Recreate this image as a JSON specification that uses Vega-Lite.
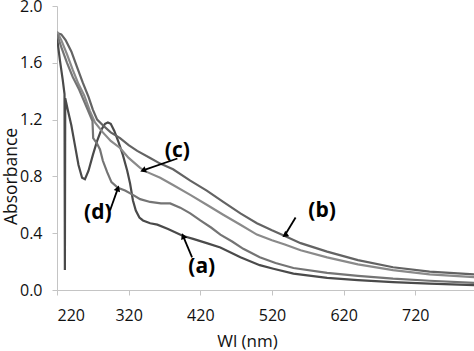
{
  "$schema": "https://vega.github.io/schema/vega-lite/v6.json",
  "autosize": {"type": "none"},
  "padding": {"left": 57, "top": 6, "right": 0, "bottom": 61},
  "width": 417,
  "height": 284,
  "background": "white",
  "config": {
    "view": {"stroke": null},
    "font": "Open Sans",
    "axis": {"grid": false, "domainColor": "#c4c4c4", "tickColor": "#c4c4c4", "tickSize": 5, "labelColor": "#111", "titleColor": "#111", "labelFont": "Open Sans", "titleFont": "Open Sans", "labelFontSize": 16, "titleFontWeight": "normal"}
  },
  "datasets": {
    "spectra": [
      {"s":"a","wl":220,"A":1.78},{"s":"a","wl":224,"A":1.62},{"s":"a","wl":228,"A":1.48},{"s":"a","wl":230.5,"A":1.38},{"s":"a","wl":231,"A":0.14},{"s":"a","wl":231.5,"A":1.35},{"s":"a","wl":235,"A":1.27},{"s":"a","wl":240,"A":1.16},{"s":"a","wl":245,"A":1.02},{"s":"a","wl":250,"A":0.88},{"s":"a","wl":255,"A":0.79},{"s":"a","wl":259,"A":0.78},{"s":"a","wl":264,"A":0.84},{"s":"a","wl":270,"A":0.95},{"s":"a","wl":276,"A":1.05},{"s":"a","wl":282,"A":1.13},{"s":"a","wl":287,"A":1.17},{"s":"a","wl":291,"A":1.18},{"s":"a","wl":295,"A":1.17},{"s":"a","wl":300,"A":1.12},{"s":"a","wl":306,"A":1.04},{"s":"a","wl":312,"A":0.95},{"s":"a","wl":318,"A":0.84},{"s":"a","wl":322,"A":0.75},{"s":"a","wl":326,"A":0.63},{"s":"a","wl":330,"A":0.56},{"s":"a","wl":335,"A":0.51},{"s":"a","wl":340,"A":0.49},{"s":"a","wl":350,"A":0.47},{"s":"a","wl":360,"A":0.46},{"s":"a","wl":375,"A":0.43},{"s":"a","wl":396,"A":0.38},{"s":"a","wl":410,"A":0.36},{"s":"a","wl":429,"A":0.33},{"s":"a","wl":448,"A":0.30},{"s":"a","wl":476,"A":0.23},{"s":"a","wl":503,"A":0.175},{"s":"a","wl":522,"A":0.15},{"s":"a","wl":550,"A":0.115},{"s":"a","wl":597,"A":0.085},{"s":"a","wl":640,"A":0.07},{"s":"a","wl":689,"A":0.056},{"s":"a","wl":740,"A":0.045},{"s":"a","wl":802,"A":0.035},
      {"s":"b","wl":220,"A":1.81},{"s":"b","wl":226,"A":1.80},{"s":"b","wl":232,"A":1.76},{"s":"b","wl":240,"A":1.68},{"s":"b","wl":248,"A":1.57},{"s":"b","wl":256,"A":1.46},{"s":"b","wl":264,"A":1.36},{"s":"b","wl":270,"A":1.27},{"s":"b","wl":276,"A":1.20},{"s":"b","wl":284,"A":1.16},{"s":"b","wl":295,"A":1.11},{"s":"b","wl":308,"A":1.07},{"s":"b","wl":320,"A":1.02},{"s":"b","wl":332,"A":0.98},{"s":"b","wl":350,"A":0.93},{"s":"b","wl":364,"A":0.89},{"s":"b","wl":382,"A":0.85},{"s":"b","wl":406,"A":0.77},{"s":"b","wl":429,"A":0.70},{"s":"b","wl":452,"A":0.62},{"s":"b","wl":476,"A":0.54},{"s":"b","wl":499,"A":0.47},{"s":"b","wl":520,"A":0.42},{"s":"b","wl":538,"A":0.38},{"s":"b","wl":560,"A":0.33},{"s":"b","wl":597,"A":0.27},{"s":"b","wl":640,"A":0.21},{"s":"b","wl":689,"A":0.16},{"s":"b","wl":740,"A":0.13},{"s":"b","wl":802,"A":0.11},
      {"s":"c","wl":220,"A":1.82},{"s":"c","wl":226,"A":1.76},{"s":"c","wl":234,"A":1.66},{"s":"c","wl":242,"A":1.55},{"s":"c","wl":250,"A":1.45},{"s":"c","wl":258,"A":1.37},{"s":"c","wl":266,"A":1.26},{"s":"c","wl":273,"A":1.18},{"s":"c","wl":284,"A":1.11},{"s":"c","wl":295,"A":1.05},{"s":"c","wl":308,"A":1.00},{"s":"c","wl":320,"A":0.93},{"s":"c","wl":336,"A":0.86},{"s":"c","wl":346,"A":0.83},{"s":"c","wl":364,"A":0.79},{"s":"c","wl":382,"A":0.74},{"s":"c","wl":406,"A":0.67},{"s":"c","wl":429,"A":0.60},{"s":"c","wl":452,"A":0.53},{"s":"c","wl":476,"A":0.46},{"s":"c","wl":499,"A":0.39},{"s":"c","wl":520,"A":0.35},{"s":"c","wl":538,"A":0.32},{"s":"c","wl":560,"A":0.28},{"s":"c","wl":597,"A":0.23},{"s":"c","wl":640,"A":0.18},{"s":"c","wl":689,"A":0.14},{"s":"c","wl":740,"A":0.11},{"s":"c","wl":802,"A":0.09},
      {"s":"d","wl":220,"A":1.80},{"s":"d","wl":226,"A":1.71},{"s":"d","wl":234,"A":1.60},{"s":"d","wl":242,"A":1.50},{"s":"d","wl":251,"A":1.41},{"s":"d","wl":262,"A":1.28},{"s":"d","wl":269.5,"A":1.19},{"s":"d","wl":270.5,"A":1.07},{"s":"d","wl":276,"A":1.03},{"s":"d","wl":280,"A":0.99},{"s":"d","wl":284,"A":0.91},{"s":"d","wl":290,"A":0.83},{"s":"d","wl":296,"A":0.76},{"s":"d","wl":305,"A":0.72},{"s":"d","wl":315,"A":0.70},{"s":"d","wl":326,"A":0.67},{"s":"d","wl":336,"A":0.64},{"s":"d","wl":350,"A":0.62},{"s":"d","wl":365,"A":0.61},{"s":"d","wl":378,"A":0.61},{"s":"d","wl":392,"A":0.58},{"s":"d","wl":406,"A":0.54},{"s":"d","wl":420,"A":0.49},{"s":"d","wl":435,"A":0.44},{"s":"d","wl":448,"A":0.39},{"s":"d","wl":465,"A":0.34},{"s":"d","wl":480,"A":0.29},{"s":"d","wl":503,"A":0.23},{"s":"d","wl":525,"A":0.19},{"s":"d","wl":550,"A":0.155},{"s":"d","wl":597,"A":0.12},{"s":"d","wl":640,"A":0.10},{"s":"d","wl":689,"A":0.08},{"s":"d","wl":740,"A":0.065},{"s":"d","wl":802,"A":0.05}
    ],
    "arrows": [
      {"s":"a","wl0":408.5,"A0":0.23,"wl1":396,"A1":0.38},
      {"s":"b","wl0":553,"A0":0.51,"wl1":538,"A1":0.386},
      {"s":"c","wl0":388,"A0":0.926,"wl1":340,"A1":0.842},
      {"s":"d","wl0":294,"A0":0.56,"wl1":305,"A1":0.716}
    ],
    "labels": [
      {"t":"(a)","wl":422,"A":0.16},
      {"t":"(b)","wl":590,"A":0.555},
      {"t":"(c)","wl":388,"A":0.976},
      {"t":"(d)","wl":277,"A":0.54}
    ]
  },
  "layer": [
    {
      "data": {"name": "spectra"},
      "mark": {"type": "line", "strokeWidth": 2.2, "clip": true},
      "encoding": {
        "x": {"field": "wl", "type": "quantitative", "scale": {"domain": [220, 802], "nice": false, "zero": false},
              "axis": {"values": [220, 320, 420, 520, 620, 720], "title": "Wl (nm)", "titleFontSize": 17, "labelPadding": 12, "titleX": 190, "titleY": 56, "titleBaseline": "alphabetic", "titleAnchor": "middle"}},
        "y": {"field": "A", "type": "quantitative", "scale": {"domain": [0, 2], "nice": false},
              "axis": {"values": [0, 0.4, 0.8, 1.2, 1.6, 2.0], "format": ".1f", "title": "Absorbance", "titleFontSize": 17.5, "labelPadding": 10, "titleX": -41, "titleY": 170, "titleAngle": -90, "titleBaseline": "alphabetic", "titleAnchor": "middle"}},
        "color": {"field": "s", "type": "nominal", "scale": {"domain": ["a", "b", "c", "d"], "range": ["#4a4a4a", "#636363", "#8a8a8a", "#747474"]}, "legend": null},
        "detail": {"field": "s"}
      }
    },
    {
      "data": {"name": "arrows"},
      "mark": {"type": "rule", "color": "#000", "strokeWidth": 1.8},
      "encoding": {
        "x": {"field": "wl0", "type": "quantitative"},
        "y": {"field": "A0", "type": "quantitative"},
        "x2": {"field": "wl1"},
        "y2": {"field": "A1"}
      }
    },
    {
      "data": {"name": "arrows"},
      "transform": [{"filter": "datum.s == 'a'"}],
      "mark": {"type": "point", "shape": "triangle-up", "filled": true, "color": "#000", "size": 45, "opacity": 1, "angle": -23},
      "encoding": {"x": {"field": "wl1", "type": "quantitative"}, "y": {"field": "A1", "type": "quantitative"}}
    },
    {
      "data": {"name": "arrows"},
      "transform": [{"filter": "datum.s == 'b'"}],
      "mark": {"type": "point", "shape": "triangle-up", "filled": true, "color": "#000", "size": 45, "opacity": 1, "angle": 234},
      "encoding": {"x": {"field": "wl1", "type": "quantitative"}, "y": {"field": "A1", "type": "quantitative"}}
    },
    {
      "data": {"name": "arrows"},
      "transform": [{"filter": "datum.s == 'c'"}],
      "mark": {"type": "point", "shape": "triangle-up", "filled": true, "color": "#000", "size": 45, "opacity": 1, "angle": 250},
      "encoding": {"x": {"field": "wl1", "type": "quantitative"}, "y": {"field": "A1", "type": "quantitative"}}
    },
    {
      "data": {"name": "arrows"},
      "transform": [{"filter": "datum.s == 'd'"}],
      "mark": {"type": "point", "shape": "triangle-up", "filled": true, "color": "#000", "size": 45, "opacity": 1, "angle": 20},
      "encoding": {"x": {"field": "wl1", "type": "quantitative"}, "y": {"field": "A1", "type": "quantitative"}}
    },
    {
      "data": {"name": "labels"},
      "mark": {"type": "text", "font": "Open Sans", "fontWeight": "bold", "fontSize": 21, "color": "#000", "align": "center", "baseline": "middle"},
      "encoding": {
        "x": {"field": "wl", "type": "quantitative"},
        "y": {"field": "A", "type": "quantitative"},
        "text": {"field": "t"}
      }
    }
  ]
}
